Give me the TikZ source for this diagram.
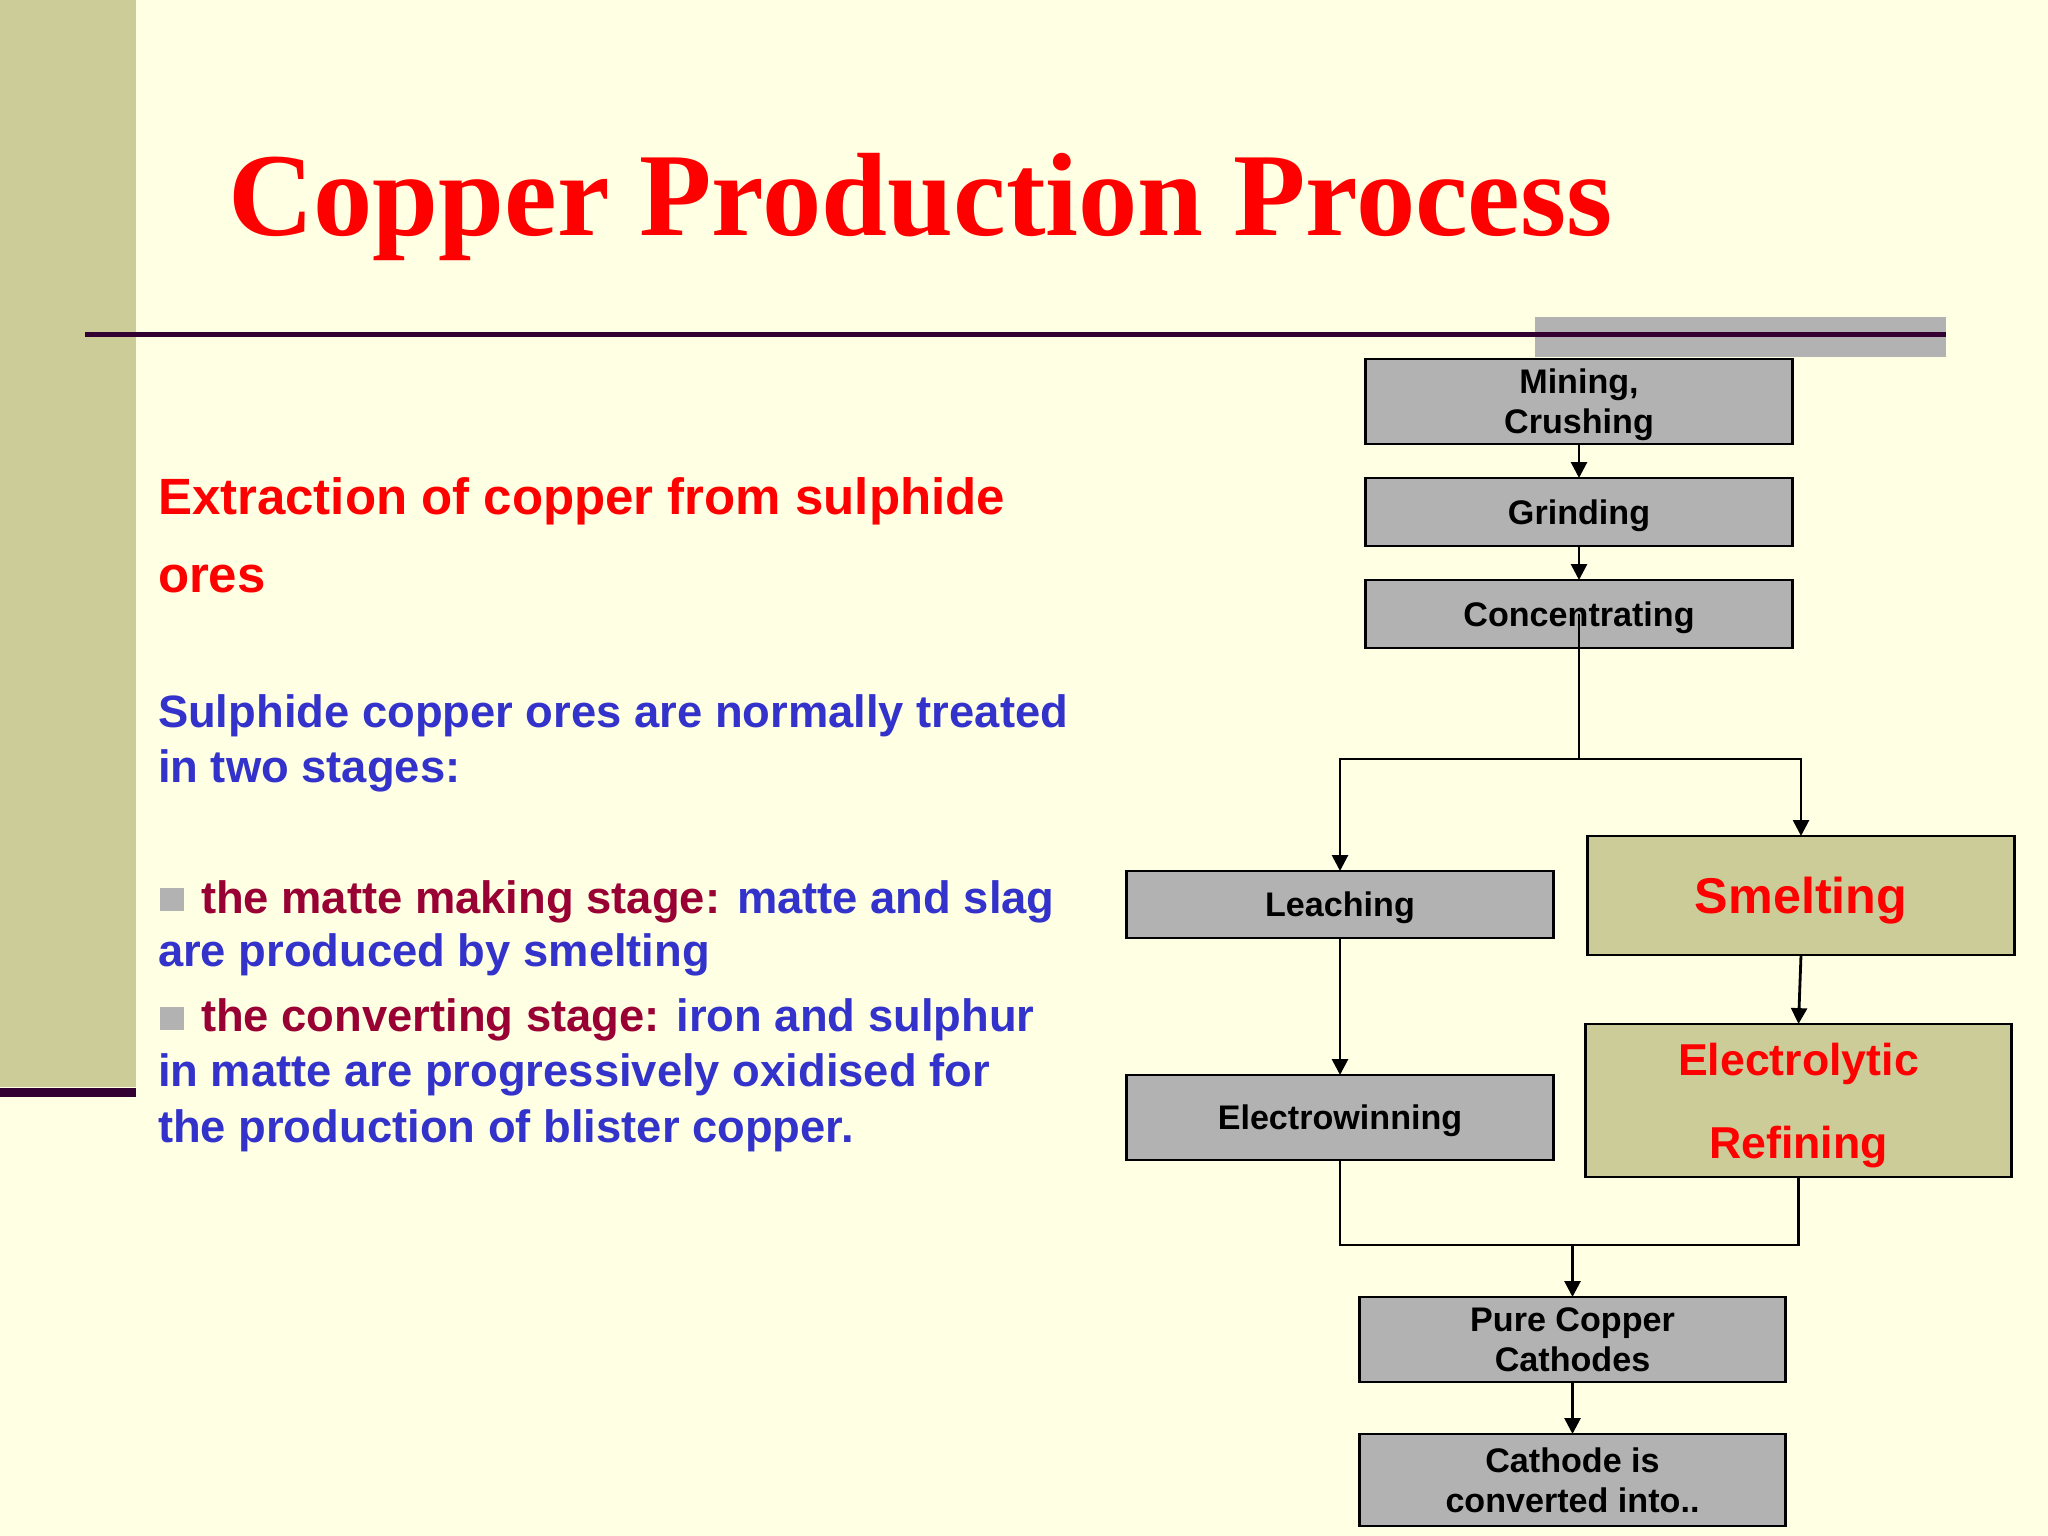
\documentclass[tikz,border=0pt]{standalone}
\usepackage{fontspec}
\setmainfont{Liberation Sans}
\newfontfamily\titlefont{Liberation Serif}
\usetikzlibrary{arrows.meta}
\definecolor{bgyellow}{HTML}{FFFFE3}
\definecolor{band}{HTML}{CCCC99}
\definecolor{boxgray}{HTML}{B2B2B2}
\definecolor{olive}{HTML}{CCCC99}
\definecolor{tred}{HTML}{FF0000}
\definecolor{tblue}{HTML}{3333CC}
\definecolor{tdark}{HTML}{990033}
\definecolor{rule}{HTML}{330033}
\tikzset{
  box/.style={draw=black, line width=0.8pt, fill=boxgray, inner sep=0pt, outer sep=0pt,
    minimum width=4.26cm, align=center, text=black, text depth=0pt,
    font=\fontsize{9.7}{11.4}\selectfont\bfseries},
  obox/.style={box, fill=olive, text=tred},
  conn/.style={draw=black, line width=0.8pt},
  arr/.style={conn, -{Triangle[length=4.5pt,width=4.5pt]}},
  txt/.style={anchor=base west, inner sep=0pt, outer sep=0pt},
  bodytxt/.style={txt, text=tblue, font=\fontsize{12.9}{15}\selectfont\bfseries},
  bulletsq/.style={fill=boxgray, draw=none}
}
\begin{document}
\begin{tikzpicture}[x=0.01cm,y=-0.01cm]
\useasboundingbox (0,0) rectangle (2048,1536);
% background
\fill[bgyellow] (0,0) rectangle (2048,1536);
\fill[band] (0,0) rectangle (136,1087);
\fill[rule] (0,1088) rectangle (136,1097);
\fill[boxgray] (1535,317) rectangle (1946,357);
\fill[rule] (85,332) rectangle (1946,337);
% title
\node[txt, text=tred, font=\titlefont\fontsize{33.7}{40}\selectfont\bfseries] (title) at (228,235) {Copper Production Process};
% left text
\node[txt, text=tred, font=\fontsize{14.5}{17}\selectfont\bfseries] (h1) at (158,514) {Extraction of copper from sulphide};
\node[txt, text=tred, font=\fontsize{14.5}{17}\selectfont\bfseries] (h2) at (158,592) {ores};
\node[bodytxt] (p1) at (158,727) {Sulphide copper ores are normally treated};
\node[bodytxt] (p2) at (158,782) {in two stages:};
\fill[bulletsq] (160,888) rectangle (184,911);
\node[bodytxt] (b1a) at (201,913) {\textcolor{tdark}{the matte making stage:} matte and slag};
\node[bodytxt] (b1b) at (158,966) {are produced by smelting};
\fill[bulletsq] (160,1007) rectangle (184,1030);
\node[bodytxt] (b2a) at (201,1031) {\textcolor{tdark}{the converting stage:} iron and sulphur};
\node[bodytxt] (b2b) at (158,1086) {in matte are progressively oxidised for};
\node[bodytxt] (b2c) at (158,1142) {the production of blister copper.};
% flow boxes
\node[box, minimum height=0.85cm] (mining) at (1579,401.5) {Mining,\\Crushing};
\node[box, minimum height=0.68cm] (grinding) at (1579,512) {Grinding};
\node[box, minimum height=0.68cm] (conc) at (1579,614) {Concentrating};
\node[box, minimum height=0.67cm] (leach) at (1340,904.5) {Leaching};
\node[obox, minimum height=1.19cm, font=\fontsize{14.3}{17}\selectfont\bfseries] (smelt) at (1801,895.5) {Smelting};
\node[box, minimum height=0.85cm] (ewin) at (1340,1117.5) {Electrowinning};
\node[obox, minimum height=1.53cm, font=\fontsize{12.7}{23.6}\selectfont\bfseries] (eref) at (1798.5,1100.5) {Electrolytic\\Refining};
\node[box, minimum height=0.85cm] (pure) at (1572.5,1339.5) {Pure Copper\\Cathodes};
\node[box, minimum height=0.92cm] (cath) at (1572.5,1480) {Cathode is\\converted into..};
% connectors
\coordinate (split) at (1579,759);
\coordinate (merge) at (1572.5,1245);
\draw[arr] (mining.south) -- (grinding.north);
\draw[arr] (grinding.south) -- (conc.north);
\draw[conn] (conc.center) -- (split);
\draw[arr] (split) -| (leach.north);
\draw[arr] (split) -| (smelt.north);
\draw[arr] (smelt.south) -- (eref.north);
\draw[arr] (leach.south) -- (ewin.north);
\draw[conn] (ewin.south) |- (merge);
\draw[conn] (eref.south) |- (merge);
\draw[arr] (merge) -- (pure.north);
\draw[arr] (pure.south) -- (cath.north);
\end{tikzpicture}
\end{document}
